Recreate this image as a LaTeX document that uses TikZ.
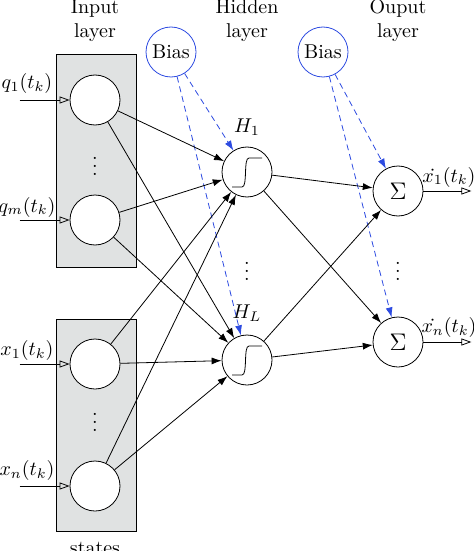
\documentclass[tikz,border=0pt]{standalone}
\usetikzlibrary{arrows.meta,positioning}
\definecolor{biasblue}{RGB}{45,75,225}
\definecolor{boxgray}{RGB}{224,226,226}
\newcommand{\sigmoidsym}[1]{%
  \draw[shift={(#1.center)}] (-15,15) -- (-5,15) .. controls (1,15) and (-4,-14) .. (2,-14) -- (15,-14);}
\begin{document}
\begin{tikzpicture}[x=0.5pt,y=-0.5pt,
    neuron/.style={circle,draw,fill=white,minimum size=25pt,inner sep=0pt},
    bias/.style={circle,draw=biasblue,minimum size=25pt,inner sep=0pt},
    title/.style={align=center},
    layerbox/.style={draw,fill=boxgray},
    wire/.style={-{Latex[length=5pt,width=3.5pt]}},
    biaswire/.style={biasblue,dash pattern=on 3pt off 2pt,-{Latex[length=5pt,width=3.5pt]}},
    feed/.style={-{Triangle[open,length=5pt,width=3.5pt]}}]
    \pgfmathsetmacro{\inx}{95}
    \pgfmathsetmacro{\hidx}{247}
    \pgfmathsetmacro{\outx}{398}
    \useasboundingbox (0,0) rectangle (474,551);
    % layer titles
    \node[title] (tin) at (\inx,21) {Input\\layer};
    \node[title] (thid) at (\hidx,21) {Hidden\\layer};
    \node[title] (tout) at (\outx,21) {Ouput\\layer};
    % input boxes
    \draw[layerbox] (56,54) rectangle (136,267);
    \draw[layerbox] (56,319) rectangle (136,531);
    \node (states) at (\inx,548) {states};
    \node[neuron] (q1) at (\inx,100) {};
    \node[neuron] (qm) at (\inx,220) {};
    \node[neuron] (x1) at (\inx,364) {};
    \node[neuron] (xn) at (\inx,486) {};
    \node (dq) at (\inx,160) {$\vdots$};
    \node (dx) at (\inx,416) {$\vdots$};
    % hidden layer
    \node[neuron] (h1) at (\hidx,172) {};
    \node[neuron] (hL) at (\hidx,360) {};
    \sigmoidsym{h1}
    \sigmoidsym{hL}
    \node (lh1) at (\hidx,127) {$H_1$};
    \node (lhL) at (\hidx,313) {$H_L$};
    \node (dh) at (\hidx,265) {$\vdots$};
    % output layer
    \node[neuron] (s1) at (\outx,191) {\large$\Sigma$};
    \node[neuron] (sn) at (\outx,342) {\large$\Sigma$};
    \node (ds) at (\outx,265) {$\vdots$};
    \node[bias] (b1) at (171,52) {Bias};
    \node[bias] (b2) at (323,52) {Bias};
    % inputs and outputs
    \foreach \n/\lab/\y in {q1/q_1/84, qm/q_m/207, x1/x_1/350, xn/x_n/470} {
        \coordinate (\n-in) at ([xshift=-25pt]\n.west);
        \draw[feed] (\n-in) -- (\n);
        \node (\n-lab) at (27,\y) {$\lab(t_k)$};
    }
    \foreach \n/\lab/\y in {s1/x_1/177, sn/x_n/327} {
        \coordinate (\n-out) at ([xshift=24pt]\n.east);
        \draw[feed] (\n) -- (\n-out);
        \node (\n-lab) at (449,\y) {$\dot{\lab}(t_k)$};
    }
    % connections
    \foreach \h in {h1,hL} \draw[biaswire] (b1) -- (\h);
    \foreach \s in {s1,sn} \draw[biaswire] (b2) -- (\s);
    \foreach \i in {q1,qm,x1,xn}
        \foreach \h in {h1,hL} \draw[wire] (\i) -- (\h);
    \foreach \h in {h1,hL}
        \foreach \s in {s1,sn} \draw[wire] (\h) -- (\s);
\end{tikzpicture}
\end{document}
